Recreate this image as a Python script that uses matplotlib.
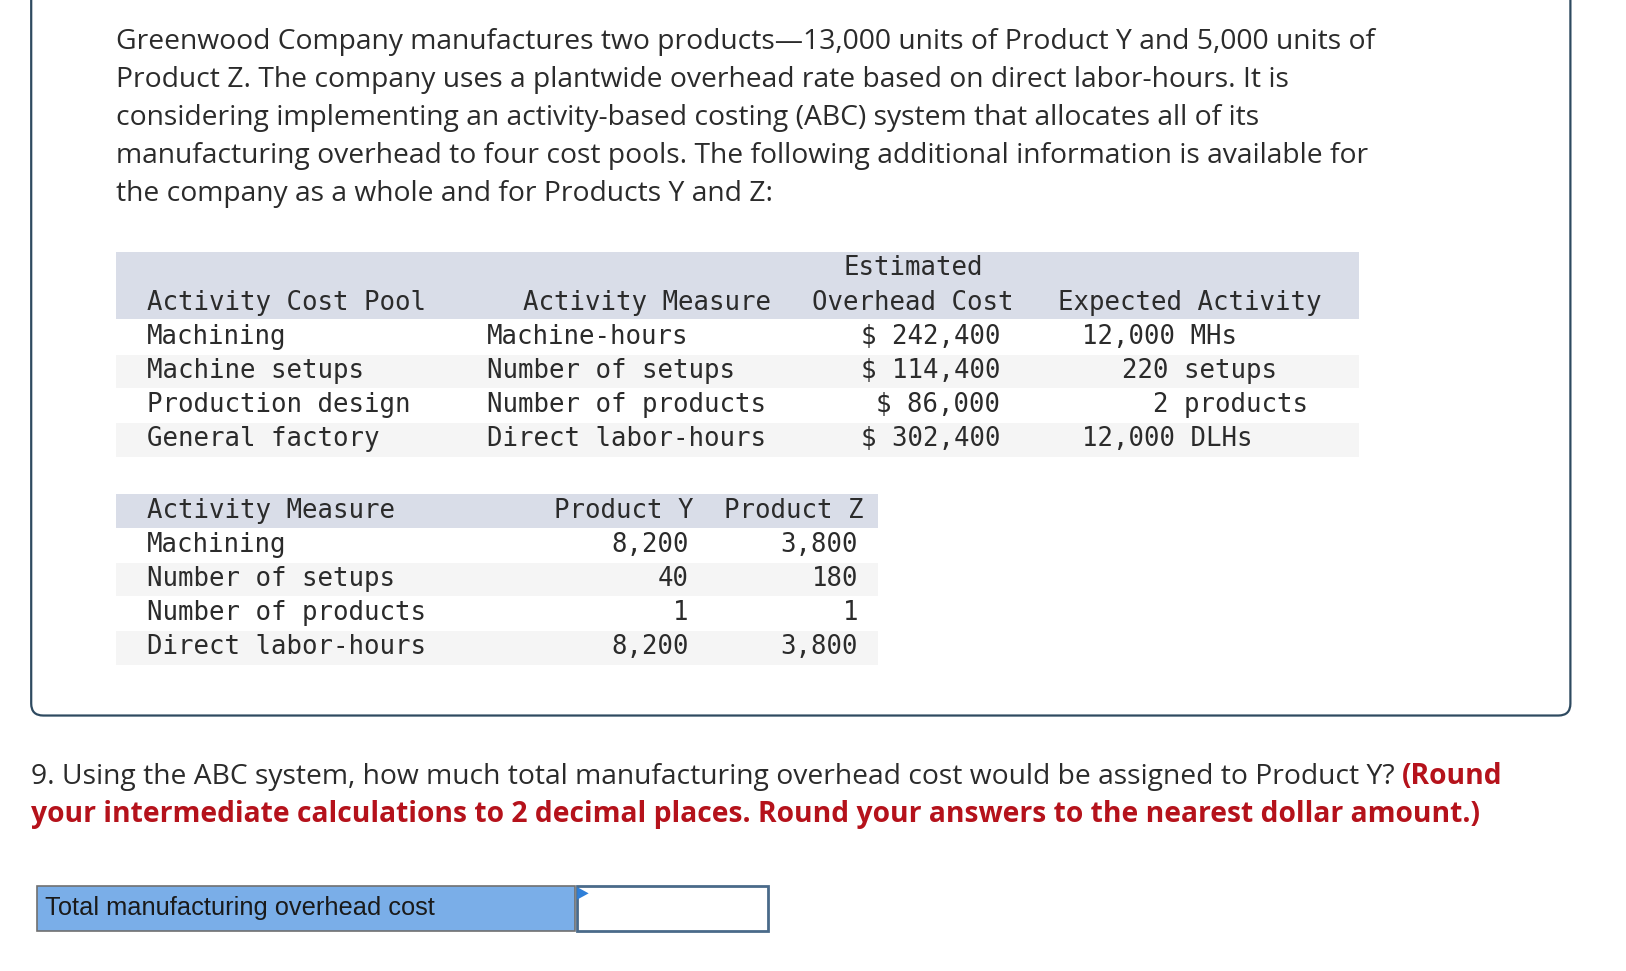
import matplotlib
matplotlib.use("Agg")
import matplotlib.pyplot as plt
from matplotlib.patches import Rectangle, FancyBboxPatch, Polygon

S = 1.04
paragraph = [
    "Greenwood Company manufactures two products\u201413,000 units of Product Y and 5,000 units of",
    "Product Z. The company uses a plantwide overhead rate based on direct labor-hours. It is",
    "considering implementing an activity-based costing (ABC) system that allocates all of its",
    "manufacturing overhead to four cost pools. The following additional information is available for",
    "the company as a whole and for Products Y and Z:",
]
pools = ["Machining", "Machine setups", "Production design", "General factory"]
measures = ["Machine-hours", "Number of setups", "Number of products", "Direct labor-hours"]
costs = ["$ 242,400", "$ 114,400", "$ 86,000", "$ 302,400"]
expected = ["12,000 MHs", "220 setups", "2 products", "12,000 DLHs"]
act_measures = ["Machining", "Number of setups", "Number of products", "Direct labor-hours"]
prod_y = ["8,200", "40", "1", "8,200"]
prod_z = ["3,800", "180", "1", "3,800"]

fig = plt.figure(figsize=(16.26, 9.71), dpi=100)
ax = fig.add_axes([0, 0, 1, 1])
ax.set_xlim(0, 1626); ax.set_ylim(971, 0); ax.axis("off")

def X(v): return v * S
SANS = "Open Sans"; MONO = "DejaVu Sans Mono"
dark = "#2b2b2b"; edge = "#2e4a60"
FS = 20.3

# frame
ax.add_patch(FancyBboxPatch((X(30), -40), X(1510) - X(30), X(688) + 40, boxstyle="round,pad=0,rounding_size=12",
                            fc="none", ec=edge, lw=1.6))
for i, line in enumerate(paragraph):
    ax.text(X(112), X(40 + 36.6 * i), line, fontsize=FS, family=SANS, color=dark, va="center")

# table 1
ax.add_patch(Rectangle((X(112), X(242)), X(1307 - 112), X(65), fc="#d9dde8", ec="none"))
for r in (1, 3):
    ax.add_patch(Rectangle((X(112), X(341 + 33 * (r - 1))), X(1307 - 112), X(32), fc="#f5f5f5", ec="none"))
fm = dict(fontsize=18.5, family=MONO, color=dark, va="center")
ax.text(X(141), X(291), "Activity Cost Pool", **fm)
ax.text(X(622), X(291), "Activity Measure", ha="center", **fm)
ax.text(X(878), X(258), "Estimated", ha="center", **fm)
ax.text(X(878), X(291), "Overhead Cost", ha="center", **fm)
ax.text(X(1144), X(291), "Expected Activity", ha="center", **fm)
exp_pos = [("left", 1040), ("right", 1228), ("right", 1258), ("left", 1040)]
for i in range(4):
    y = X(324 + 32.7 * i)
    ax.text(X(141), y, pools[i], **fm)
    ax.text(X(468), y, measures[i], **fm)
    ax.text(X(962), y, costs[i], ha="right", **fm)
    ha, px = exp_pos[i]
    ax.text(X(px), y, expected[i], ha=ha, **fm)

# table 2
ax.add_patch(Rectangle((X(112), X(475)), X(844 - 112), X(33), fc="#d9dde8", ec="none"))
for r in (1, 3):
    ax.add_patch(Rectangle((X(112), X(541 + 33 * (r - 1))), X(844 - 112), X(32), fc="#f5f5f5", ec="none"))
ax.text(X(141), X(491), "Activity Measure", **fm)
ax.text(X(667), X(491), "Product Y", ha="right", **fm)
ax.text(X(830), X(491), "Product Z", ha="right", **fm)
for i in range(4):
    y = X(524 + 32.7 * i)
    ax.text(X(141), y, act_measures[i], **fm)
    ax.text(X(662), y, prod_y[i], ha="right", **fm)
    ax.text(X(825), y, prod_z[i], ha="right", **fm)

# question
red = "#b5121b"
t = ax.text(X(30), X(747), "9. Using the ABC system, how much total manufacturing overhead cost would be assigned to Product Y? ",
            fontsize=FS, family=SANS, color=dark, va="center")
fig.canvas.draw()
bb = t.get_window_extent().transformed(ax.transData.inverted())
ax.text(bb.x1, X(747), "(Round", fontsize=FS, family=SANS, color=red, weight="bold", va="center")
ax.text(X(30), X(783), "your intermediate calculations to 2 decimal places. Round your answers to the nearest dollar amount.)",
        fontsize=FS, family=SANS, color=red, weight="bold", va="center")

# input
ax.add_patch(Rectangle((X(36), X(852)), X(553 - 36), X(43), fc="#7aaee8", ec="#707070", lw=1.2))
ax.text(X(43), X(873), "Total manufacturing overhead cost", fontsize=18.3, family="Liberation Sans", color="#1a1a1a", va="center")
ax.add_patch(Rectangle((X(555), X(852)), X(738 - 555), X(43), fc="white", ec="#4a6a8a", lw=2))
ax.add_patch(Polygon([(X(555), X(853)), (X(566), X(859)), (X(555), X(865))], closed=True, fc="#2f7fd8", ec="none"))

fig.savefig("out.png", dpi=100)
